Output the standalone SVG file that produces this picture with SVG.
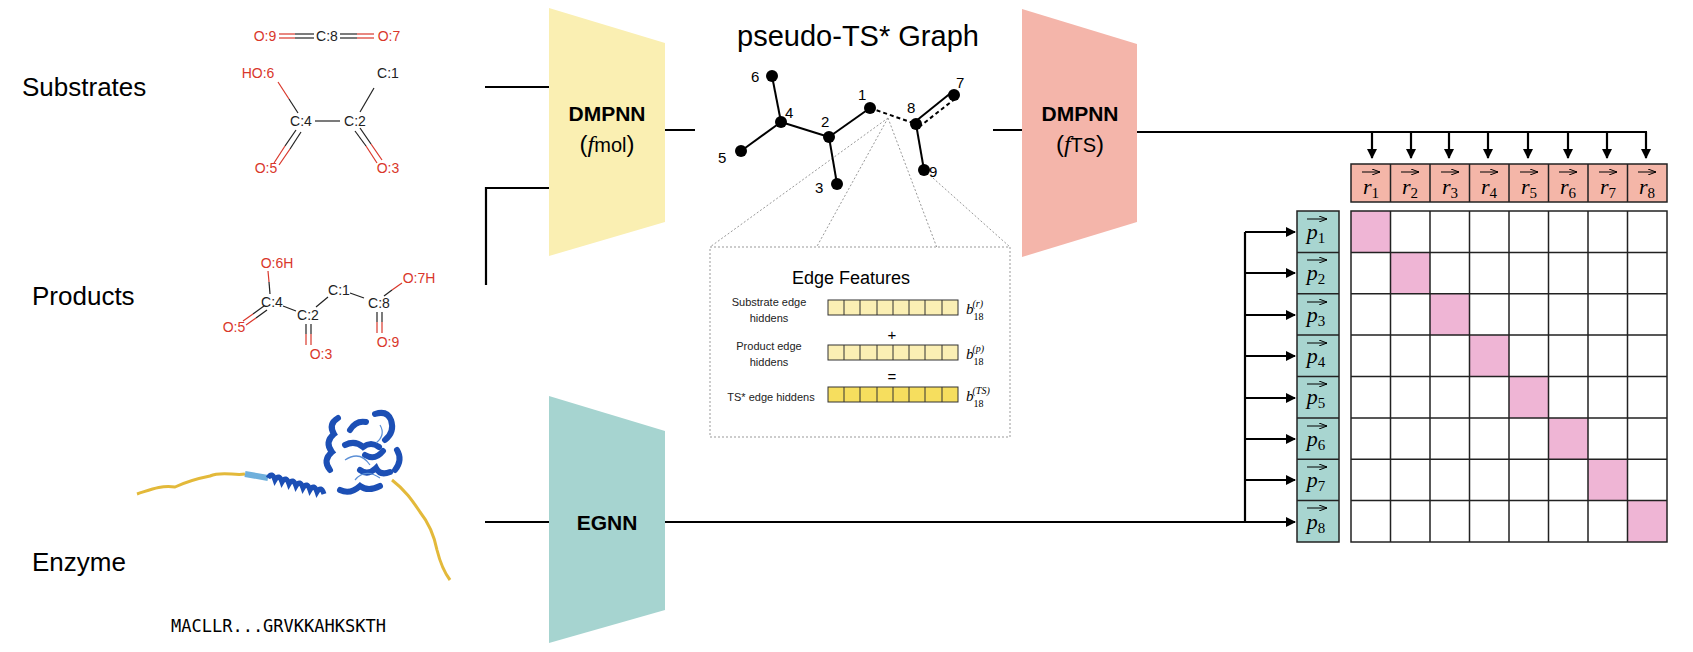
<svg xmlns="http://www.w3.org/2000/svg" width="1693" height="652" viewBox="0 0 1693 652">
<style>
.lbl{font-family:"Liberation Sans",Arial,sans-serif;font-size:26px;fill:#000}
.net{font-family:"Liberation Sans",Arial,sans-serif;font-size:21px;font-weight:bold;text-anchor:middle}
.fn{font-family:"Liberation Sans",Arial,sans-serif;font-size:24px;text-anchor:middle}
.at{font-family:"Liberation Sans",Arial,sans-serif;font-size:14px;text-anchor:middle;dominant-baseline:central}
.r{fill:#d9372b}.k{fill:#222}
.bd{stroke:#222;stroke-width:1.2}.bdr{stroke:#d9372b;stroke-width:1.2}
.wire{stroke:#000;stroke-width:2.2;fill:none}
.num{font-family:"Liberation Sans",Arial,sans-serif;font-size:15px}
.ef{font-family:"Liberation Sans",Arial,sans-serif;font-size:11px;text-anchor:middle;fill:#222}
.math{font-family:"Liberation Serif","Times New Roman",serif;font-style:italic}
.cell{stroke:#222;stroke-width:1.5}
.vec{font-family:"Liberation Serif","Times New Roman",serif;font-size:22px;font-style:italic;text-anchor:middle}
.sub{font-style:normal;font-size:15px}
.va{stroke:#000;stroke-width:1}
</style>
<defs>
<marker id="ah" markerWidth="10" markerHeight="10" refX="9" refY="5" orient="auto" markerUnits="userSpaceOnUse"><path d="M0,0 L10,5 L0,10 z" fill="#000"/></marker>
<marker id="va" markerWidth="8" markerHeight="6" refX="8" refY="3" orient="auto" markerUnits="userSpaceOnUse"><path d="M0,0 L8,3 L0,6" fill="none" stroke="#000" stroke-width="1"/></marker>
</defs>
<g id="labels">
<text class="lbl" x="22" y="96">Substrates</text>
<text class="lbl" x="32" y="305">Products</text>
<text class="lbl" x="32" y="571">Enzyme</text>
</g>
<g id="substrates">
<line class="bdr" x1="279" y1="34" x2="295" y2="34"/><line class="bd" x1="295" y1="34" x2="314" y2="34"/>
<line class="bdr" x1="279" y1="38" x2="295" y2="38"/><line class="bd" x1="295" y1="38" x2="314" y2="38"/>
<line class="bd" x1="340" y1="34" x2="357" y2="34"/><line class="bdr" x1="357" y1="34" x2="374" y2="34"/>
<line class="bd" x1="340" y1="38" x2="357" y2="38"/><line class="bdr" x1="357" y1="38" x2="374" y2="38"/>
<text class="at r" x="265" y="36">O:9</text><text class="at k" x="327" y="36">C:8</text><text class="at r" x="389" y="36">O:7</text>
<line class="bdr" x1="278" y1="82" x2="289" y2="99"/><line class="bd" x1="289" y1="99" x2="298" y2="113"/>
<line class="bd" x1="315" y1="121" x2="340" y2="121"/>
<line class="bd" x1="360" y1="112" x2="374" y2="88"/>
<line class="bd" x1="296" y1="130" x2="285" y2="146"/><line class="bdr" x1="285" y1="146" x2="274" y2="163"/>
<line class="bd" x1="301" y1="132" x2="290" y2="149"/><line class="bdr" x1="290" y1="149" x2="279" y2="165"/>
<line class="bd" x1="355" y1="131" x2="366" y2="146"/><line class="bdr" x1="366" y1="146" x2="377" y2="163"/>
<line class="bd" x1="360" y1="128" x2="371" y2="144"/><line class="bdr" x1="371" y1="144" x2="382" y2="160"/>
<text class="at r" x="258" y="73">HO:6</text><text class="at k" x="388" y="73">C:1</text>
<text class="at k" x="301" y="121">C:4</text><text class="at k" x="355" y="121">C:2</text>
<text class="at r" x="266" y="168">O:5</text><text class="at r" x="388" y="168">O:3</text>
</g>
<g id="products">
<line class="bdr" x1="268" y1="271" x2="269" y2="282"/><line class="bd" x1="269" y1="282" x2="270" y2="294"/>
<line class="bd" x1="283" y1="306" x2="296" y2="311"/>
<line class="bd" x1="316" y1="307" x2="328" y2="297"/>
<line class="bd" x1="350" y1="293" x2="364" y2="298"/>
<line class="bd" x1="384" y1="296" x2="392" y2="290"/><line class="bdr" x1="392" y1="290" x2="402" y2="283"/>
<line class="bd" x1="264" y1="306" x2="253" y2="314"/><line class="bdr" x1="253" y1="314" x2="243" y2="321"/>
<line class="bd" x1="267" y1="310" x2="256" y2="318"/><line class="bdr" x1="256" y1="318" x2="246" y2="325"/>
<line class="bd" x1="306" y1="324" x2="306" y2="334"/><line class="bdr" x1="306" y1="334" x2="306" y2="345"/>
<line class="bd" x1="311" y1="324" x2="311" y2="334"/><line class="bdr" x1="311" y1="334" x2="311" y2="345"/>
<line class="bd" x1="377" y1="312" x2="377" y2="322"/><line class="bdr" x1="377" y1="322" x2="377" y2="333"/>
<line class="bd" x1="382" y1="312" x2="382" y2="322"/><line class="bdr" x1="382" y1="322" x2="382" y2="333"/>
<text class="at r" x="277" y="263">O:6H</text><text class="at r" x="419" y="278">O:7H</text>
<text class="at k" x="272" y="302">C:4</text><text class="at k" x="308" y="315">C:2</text>
<text class="at k" x="339" y="290">C:1</text><text class="at k" x="379" y="303">C:8</text>
<text class="at r" x="234" y="327">O:5</text><text class="at r" x="321" y="354">O:3</text><text class="at r" x="388" y="342">O:9</text>
</g>
<g id="enzyme">
<path d="M137,494 C150,490 160,485 175,487 C190,480 200,478 210,476 C222,471 235,476 245,474" stroke="#e3b93a" stroke-width="3" fill="none"/>
<path d="M245,474 L268,478" stroke="#6fb0dc" stroke-width="6" fill="none"/>
<path d="M268,478 q4,-7 7,2 q4,-7 7,2 q4,-7 7,2 q4,-7 7,2 q4,-7 7,2 q4,-7 7,2 q4,-7 7,2 q4,-7 7,2" stroke="#1c4fb5" stroke-width="5" fill="none"/>
<g fill="none" stroke="#1c4fb5" stroke-width="6" stroke-linecap="round">
<path d="M330,470 q-8,-10 2,-18 q-8,-10 2,-18 q-6,-10 4,-16"/>
<path d="M345,445 q10,-5 18,2 q8,-6 16,0"/>
<path d="M360,470 q8,6 16,-2 q4,8 14,4"/>
<path d="M385,440 q10,-8 6,-20 q-4,-10 -16,-6"/>
<path d="M395,470 q8,-10 2,-20"/>
<path d="M340,490 q10,5 20,-4 q8,6 20,0"/>
<path d="M350,430 q6,-10 16,-8"/>
<path d="M365,455 q10,6 18,-4"/>
</g>
<path d="M345,460 q15,-10 25,5 M355,480 q10,-12 25,-2 M380,425 q6,10 -4,18" stroke="#5b8fd6" stroke-width="1.2" fill="none"/>
<path d="M392,480 C405,490 412,500 420,512 C428,522 434,535 437,550 C440,562 444,572 450,580" stroke="#e3b93a" stroke-width="3" fill="none"/>
<text x="171" y="632" style="font-family:'DejaVu Sans Mono','Liberation Mono',monospace;font-size:17px">MACLLR...GRVKKAHKSKTH</text>
</g>
<g id="dmpnn-mol">
<path d="M549,8 L665,43 L665,222 L549,256 Z" fill="#faefb2"/>
<text class="net" x="607" y="121">DMPNN</text>
<text class="fn" x="607" y="152">(<tspan class="math">f</tspan><tspan font-size="20">mol</tspan>)</text>
</g>
<g id="egnn">
<path d="M549,396 L665,431 L665,610 L549,643 Z" fill="#a6d4d0"/>
<text class="net" x="607" y="530">EGNN</text>
</g>
<g id="dmpnn-ts">
<path d="M1022,9 L1137,44 L1137,222 L1022,257 Z" fill="#f4b5aa"/>
<text class="net" x="1080" y="121">DMPNN</text>
<text class="fn" x="1080" y="152">(<tspan class="math">f</tspan><tspan font-size="20">TS</tspan>)</text>
</g>
<g id="ts-graph">
<text x="858" y="46" style="font-family:'Liberation Sans',Arial,sans-serif;font-size:29px;text-anchor:middle">pseudo-TS* Graph</text>
<g stroke="#999" stroke-width="1" stroke-dasharray="2,2" fill="none">
<line x1="888" y1="118" x2="710" y2="247"/><line x1="888" y1="118" x2="712" y2="436"/>
<line x1="888" y1="118" x2="1008" y2="436"/><line x1="924" y1="170" x2="1010" y2="247"/>
</g>
<g stroke="#000" stroke-width="2" fill="none">
<line x1="772" y1="76" x2="781" y2="122"/><line x1="781" y1="122" x2="741" y2="151"/>
<line x1="781" y1="122" x2="829" y2="137"/><line x1="829" y1="137" x2="837" y2="184"/>
<line x1="829" y1="137" x2="870" y2="108"/><line x1="916" y1="124" x2="924" y2="170"/>
<line x1="916" y1="121" x2="952" y2="92"/>
<line x1="870" y1="108" x2="916" y2="124" stroke-dasharray="4,3"/>
<line x1="919" y1="127" x2="956" y2="98" stroke-dasharray="4,3"/>
</g>
<g fill="#000"><circle cx="772" cy="76" r="6"/><circle cx="781" cy="122" r="6"/><circle cx="741" cy="151" r="6"/><circle cx="829" cy="137" r="6"/><circle cx="837" cy="184" r="6"/><circle cx="870" cy="108" r="6"/><circle cx="916" cy="124" r="6"/><circle cx="954" cy="95" r="6"/><circle cx="924" cy="170" r="6"/></g>
<g class="num"><text x="751" y="82">6</text><text x="785" y="118">4</text><text x="718" y="163">5</text><text x="821" y="127">2</text><text x="815" y="193">3</text><text x="858" y="100">1</text><text x="907" y="113">8</text><text x="956" y="88">7</text><text x="929" y="177">9</text></g>
</g>
<g id="edge-features">
<rect x="710" y="247" width="300" height="190" fill="#fff" stroke="#999" stroke-dasharray="2,2"/>
<text x="851" y="284" style="font-family:'Liberation Sans',Arial,sans-serif;font-size:18px;text-anchor:middle">Edge Features</text>
<text class="ef" x="769" y="306">Substrate edge</text><text class="ef" x="769" y="322">hiddens</text>
<text class="ef" x="769" y="350">Product edge</text><text class="ef" x="769" y="366">hiddens</text>
<text class="ef" x="771" y="401">TS* edge hiddens</text>
<text x="892" y="340" style="font-family:'Liberation Sans',Arial,sans-serif;font-size:15px;text-anchor:middle">+</text>
<text x="892" y="382" style="font-family:'Liberation Sans',Arial,sans-serif;font-size:15px;text-anchor:middle">=</text>
<g stroke="#333" stroke-width="1">
<rect x="828" y="300" width="130" height="15" fill="#fbefb4"/><rect x="828" y="345" width="130" height="15" fill="#fbefb4"/><rect x="828" y="387" width="130" height="15" fill="#f6de5e"/>
<path d="M844,300v15M860,300v15M877,300v15M893,300v15M909,300v15M925,300v15M942,300v15M844,345v15M860,345v15M877,345v15M893,345v15M909,345v15M925,345v15M942,345v15M844,387v15M860,387v15M877,387v15M893,387v15M909,387v15M925,387v15M942,387v15"/>
</g>
<g class="math" font-size="15"><text x="966" y="314">b<tspan font-size="10" dy="6" style="font-style:normal">18</tspan><tspan font-size="10" dx="-11" dy="-13">(r)</tspan></text>
<text x="966" y="359">b<tspan font-size="10" dy="6" style="font-style:normal">18</tspan><tspan font-size="10" dx="-11" dy="-13">(p)</tspan></text>
<text x="966" y="401">b<tspan font-size="10" dy="6" style="font-style:normal">18</tspan><tspan font-size="10" dx="-11" dy="-13">(TS)</tspan></text></g>
</g>
<g id="connectors">
<path class="wire" d="M485,87 H549 M486,285 V188 H549 M665,130 H695 M993,130 H1022 M485,522 H549 M665,522 H1245"/>
<path class="wire" d="M1137,132 H1647"/>
<g class="wire" marker-end="url(#ah)">
<path d="M1372,132 V158"/><path d="M1411,132 V158"/><path d="M1449,132 V158"/><path d="M1488,132 V158"/><path d="M1528,132 V158"/><path d="M1568,132 V158"/><path d="M1607,132 V158"/><path d="M1646,132 V158"/>
</g>
<path class="wire" d="M1245,232 V522"/>
<g class="wire" marker-end="url(#ah)">
<path d="M1245,232 H1295"/><path d="M1245,273 H1295"/><path d="M1245,315 H1295"/><path d="M1245,356 H1295"/><path d="M1245,398 H1295"/><path d="M1245,439 H1295"/><path d="M1245,480 H1295"/><path d="M1245,522 H1295"/>
</g>
</g>
<g id="r-vectors">
<rect class="cell" x="1351" y="164" width="316" height="38" fill="#f4b6a8"/>
<path class="cell" d="M1390.5,164v38M1430,164v38M1469.5,164v38M1509,164v38M1548.5,164v38M1588,164v38M1627.5,164v38"/>
<g class="vec"><text x="1371" y="194">r<tspan class="sub" dy="4">1</tspan></text><text x="1410" y="194">r<tspan class="sub" dy="4">2</tspan></text><text x="1450" y="194">r<tspan class="sub" dy="4">3</tspan></text><text x="1489" y="194">r<tspan class="sub" dy="4">4</tspan></text><text x="1529" y="194">r<tspan class="sub" dy="4">5</tspan></text><text x="1568" y="194">r<tspan class="sub" dy="4">6</tspan></text><text x="1608" y="194">r<tspan class="sub" dy="4">7</tspan></text><text x="1647" y="194">r<tspan class="sub" dy="4">8</tspan></text></g>
<g class="va" marker-end="url(#va)"><path d="M1362,172h18"/><path d="M1401,172h18"/><path d="M1441,172h18"/><path d="M1480,172h18"/><path d="M1520,172h18"/><path d="M1559,172h18"/><path d="M1599,172h18"/><path d="M1638,172h18"/></g>
</g>
<g id="p-vectors">
<rect class="cell" x="1297" y="211" width="42" height="331" fill="#a8d5d0"/>
<path class="cell" d="M1297,252.4h42M1297,293.8h42M1297,335.1h42M1297,376.5h42M1297,417.9h42M1297,459.3h42M1297,500.6h42"/>
<g class="vec"><text x="1316" y="239">p<tspan class="sub" dy="4">1</tspan></text><text x="1316" y="280">p<tspan class="sub" dy="4">2</tspan></text><text x="1316" y="322">p<tspan class="sub" dy="4">3</tspan></text><text x="1316" y="363">p<tspan class="sub" dy="4">4</tspan></text><text x="1316" y="404">p<tspan class="sub" dy="4">5</tspan></text><text x="1316" y="446">p<tspan class="sub" dy="4">6</tspan></text><text x="1316" y="487">p<tspan class="sub" dy="4">7</tspan></text><text x="1316" y="529">p<tspan class="sub" dy="4">8</tspan></text></g>
<g class="va" marker-end="url(#va)"><path d="M1307,219h20"/><path d="M1307,260h20"/><path d="M1307,302h20"/><path d="M1307,343h20"/><path d="M1307,384h20"/><path d="M1307,426h20"/><path d="M1307,467h20"/><path d="M1307,508h20"/></g>
</g>
<g id="matrix">
<g fill="#efb5d5"><rect x="1351" y="211" width="39.5" height="41.4"/><rect x="1390.5" y="252.4" width="39.5" height="41.4"/><rect x="1430" y="293.8" width="39.5" height="41.4"/><rect x="1469.5" y="335.1" width="39.5" height="41.4"/><rect x="1509" y="376.5" width="39.5" height="41.4"/><rect x="1548.5" y="417.9" width="39.5" height="41.4"/><rect x="1588" y="459.3" width="39.5" height="41.4"/><rect x="1627.5" y="500.6" width="39.5" height="41.4"/></g>
<rect class="cell" x="1351" y="211" width="316" height="331" fill="none"/>
<path class="cell" d="M1390.5,211v331M1430,211v331M1469.5,211v331M1509,211v331M1548.5,211v331M1588,211v331M1627.5,211v331M1351,252.4h316M1351,293.8h316M1351,335.1h316M1351,376.5h316M1351,417.9h316M1351,459.3h316M1351,500.6h316"/>
</g>
</svg>
